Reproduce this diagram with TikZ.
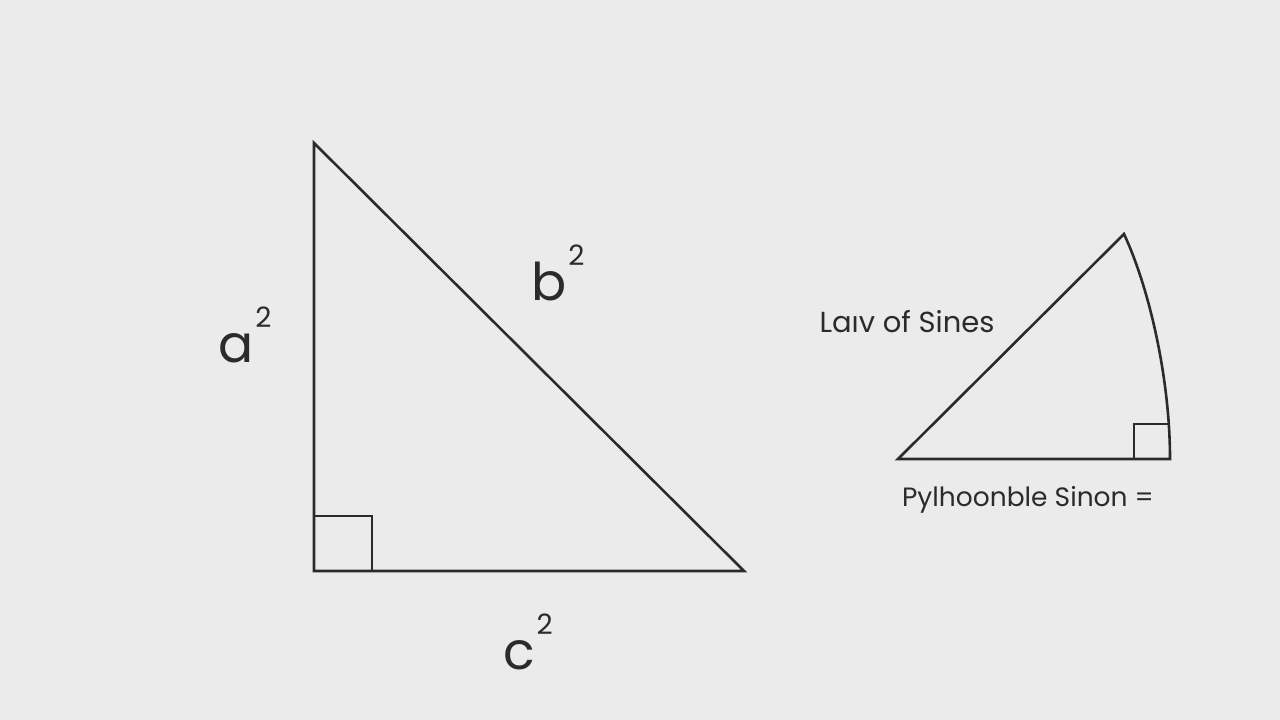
\documentclass[tikz,border=0pt]{standalone}
\usepackage{fontspec}
\setmainfont{Poppins}
\definecolor{sfondo}{HTML}{EBEBEB}
\definecolor{tratto}{HTML}{2B2B2B}
\newcommand{\quadrato}[1]{#1\hspace{0.03em}\raisebox{0.66em}{\fontsize{28}{28}\selectfont 2}}
\tikzset{
  lato/.style={draw=tratto,line width=2.6pt,line join=miter},
  etichetta/.style={text=tratto,inner sep=0pt,font=\fontsize{52}{56}\selectfont},
  scritta/.style={text=tratto,inner sep=0pt,font=\fontsize{29}{33}\selectfont}
}
\begin{document}
\begin{tikzpicture}[x=1pt,y=-1pt]
        \fill[sfondo] (0,0) rectangle (1280,720);
        \useasboundingbox (0,0) rectangle (1280,720);

        %%%%%%%%%% Vertici %%%%%%%%%%
        \coordinate (A) at (314,143);
        \coordinate (B) at (314,571);
        \coordinate (C) at (744,571);
        \coordinate (P) at (898,459);
        \coordinate (Q) at (1124,234);
        \coordinate (R) at (1170,459);

        %%%%%%%%%% Lati %%%%%%%%%%
        \draw[lato] (A) -- (B) -- (C) -- cycle;
        \draw[lato] (314,516) -- (372,516) -- (372,571);
        \draw[lato] (P) -- (Q) .. controls (1150,290) and (1170,380) .. (R) -- cycle;
        \draw[lato] (1134,459) -- (1134,424) -- (1170,424);

        %%%%%%%%%% Etichette %%%%%%%%%%
        \node[etichetta,anchor=base] (la) at (245,362) {\quadrato{a}};
        \node[etichetta,anchor=base] (lb) at (558,300) {\quadrato{b}};
        \node[etichetta,anchor=base] (lc) at (528,669) {\quadrato{c}};
        \node[scritta,anchor=base] (legge) at (907,332) {Laıv of Sines};
        \node[scritta,anchor=base,font=\fontsize{26.5}{30}\selectfont] (nome) at (1028,506) {Pylhoonble Sinon =};
\end{tikzpicture}
\end{document}
